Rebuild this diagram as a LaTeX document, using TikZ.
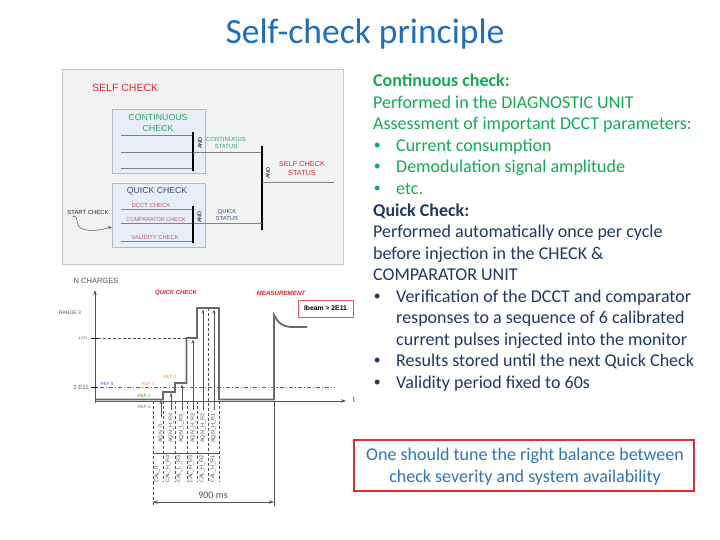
\documentclass[tikz,border=0pt]{standalone}
\usepackage{fontspec}
\setmainfont{Carlito}
\newfontfamily\arialf{Liberation Sans}
\usetikzlibrary{arrows.meta}
\definecolor{titleblue}{RGB}{31,110,182}
\definecolor{cgreen}{RGB}{20,170,85}
\definecolor{dblue}{RGB}{32,56,100}
\definecolor{boxblue}{RGB}{46,117,182}
\definecolor{boxred}{RGB}{225,45,45}
\definecolor{outerfill}{RGB}{243,243,243}
\definecolor{outerborder}{RGB}{200,200,200}
\definecolor{subfill}{RGB}{232,238,248}
\definecolor{subborder}{RGB}{175,185,205}
\definecolor{lgray}{RGB}{130,130,130}
\definecolor{dgray}{RGB}{85,85,85}
\definecolor{siggray}{RGB}{105,105,105}
\definecolor{sred}{RGB}{225,35,45}
\definecolor{sgreen}{RGB}{38,168,100}
\definecolor{qblue}{RGB}{60,75,130}
\definecolor{crose}{RGB}{200,85,95}
\definecolor{refblue}{RGB}{80,80,230}
\definecolor{reforange}{RGB}{240,150,70}
\definecolor{refgreen}{RGB}{70,160,60}
\begin{document}
\begin{tikzpicture}[x=1pt,y=-1pt,
  lbl/.style={inner sep=0pt, font=\arialf\fontsize{#1}{#1}\selectfont},
  rt/.style={anchor=base west, inner sep=0pt, font=\fontsize{18}{21.5}\selectfont},
  bul/.style={anchor=base west, inner sep=0pt, font=\arialf\fontsize{18}{21.5}\selectfont},
  gline/.style={draw=lgray, line width=0.5pt},
  andbar/.style={draw=black, line width=1.6pt},
  andlbl/.style={lbl=5.5, rotate=90},
  subbox/.style={draw=subborder, fill=subfill, line width=0.6pt, minimum width=93pt, minimum height=64pt, inner sep=0pt},
  sig/.style={draw=siggray, line width=1.8pt, line join=miter},
  axis/.style={draw=dgray, line width=0.8pt, -{Stealth[length=5pt,width=3.5pt]}},
  dsh/.style={draw=dgray, line width=0.5pt, dash pattern=on 3pt off 2pt},
  uparr/.style={draw=dgray, line width=0.7pt, -{Stealth[length=4pt,width=3pt]}},
  rlbl/.style={lbl=5.5, rotate=90, anchor=west, text=dgray},
]
\fill[white] (0,0) rectangle (720,540);
\useasboundingbox (0,0) rectangle (720,540);

% ---------- title
\node[anchor=base, inner sep=0pt, font=\fontsize{35.5}{40}\selectfont, text=titleblue] (title) at (365,44) {Self-check principle};

% ---------- right text
\node[rt, text=cgreen, font=\bfseries\fontsize{18}{21.5}\selectfont] (t1) at (373,87) {Continuous check:};
\node[rt, text=cgreen] (t2) at (373,108.5) {Performed in the DIAGNOSTIC UNIT};
\node[rt, text=cgreen] (t3) at (373,130) {Assessment of important DCCT parameters:};
\node[bul, text=cgreen] (b1) at (374,151.5) {•};
\node[rt, text=cgreen] (t4) at (396,151.5) {Current consumption};
\node[bul, text=cgreen] (b2) at (374,173) {•};
\node[rt, text=cgreen] (t5) at (396,173) {Demodulation signal amplitude};
\node[bul, text=cgreen] (b3) at (374,194.5) {•};
\node[rt, text=cgreen] (t6) at (396,194.5) {etc.};
\node[rt, text=dblue, font=\bfseries\fontsize{18}{21.5}\selectfont] (t7) at (373,216) {Quick Check:};
\node[rt, text=dblue] (t8) at (373,237.5) {Performed automatically once per cycle};
\node[rt, text=dblue] (t9) at (373,259) {before injection in the CHECK \&};
\node[rt, text=dblue] (t10) at (373,280.5) {COMPARATOR UNIT};
\node[bul, text=dblue] (b4) at (374,302) {•};
\node[rt, text=dblue] (t11) at (396,302) {Verification of the DCCT and comparator};
\node[rt, text=dblue] (t12) at (396,323.5) {responses to a sequence of 6 calibrated};
\node[rt, text=dblue] (t13) at (396,345) {current pulses injected into the monitor};
\node[bul, text=dblue] (b5) at (374,366.5) {•};
\node[rt, text=dblue] (t14) at (396,366.5) {Results stored until the next Quick Check};
\node[bul, text=dblue] (b6) at (374,388) {•};
\node[rt, text=dblue] (t15) at (396,388) {Validity period fixed to 60s};

% ---------- red framed statement
\node[draw=boxred, line width=1.5pt, minimum width=340pt, minimum height=51pt, inner sep=0pt] (tunebox) at (524,465.5) {};
\node[anchor=base, inner sep=0pt, font=\fontsize{18}{22}\selectfont, text=boxblue] (tune1) at (525,460) {One should tune the right balance between};
\node[anchor=base, inner sep=0pt, font=\fontsize{18}{22}\selectfont, text=boxblue] (tune2) at (525,482) {check severity and system availability};

% ---------- SELF CHECK block diagram
\node[draw=outerborder, fill=outerfill, line width=0.6pt, minimum width=281pt, minimum height=195pt, inner sep=0pt] (selfbox) at (202.5,166.5) {};
\node[lbl=10.5, text=sred, anchor=west] (selftitle) at (92,88) {SELF CHECK};

\node[subbox] (contbox) at (158.5,141) {};
\node[inner sep=0pt, align=center, text=sgreen, font=\arialf\fontsize{8.8}{11}\selectfont] (conttitle) at (158,122.5) {CONTINUOUS\\CHECK};
\coordinate (c1a) at (121,135); \coordinate (c1b) at (193,135);
\coordinate (c2a) at (121,152); \coordinate (c2b) at (193,152);
\coordinate (c3a) at (121,168); \coordinate (c3b) at (193,168);
\draw[gline] (c1a) -- (c1b);
\draw[gline] (c2a) -- (c2b);
\draw[gline] (c3a) -- (c3b);
\coordinate (and1t) at (193,132); \coordinate (and1b) at (193,171);
\draw[andbar] (and1t) -- (and1b);
\node[andlbl] (and1) at (200,143) {AND};
\coordinate (and2t) at (262,146); \coordinate (and2b) at (262,230);
\coordinate (cs) at (262,152);
\draw[gline] (c2b) -- (cs);
\node[inner sep=0pt, align=center, text=sgreen, font=\arialf\fontsize{5.9}{7}\selectfont] (contstat) at (226,142.5) {CONTINUOUS\\STATUS};
\draw[andbar] (and2t) -- (and2b);
\node[andlbl] (and2) at (268,173) {AND};
\coordinate (so1) at (262,182); \coordinate (so2) at (334,182);
\draw[gline] (so1) -- (so2);
\node[inner sep=0pt, align=center, text=sred, font=\arialf\fontsize{7.3}{9}\selectfont] (selfstat) at (302,168.5) {SELF CHECK\\STATUS};

\node[subbox] (quickbox) at (158.5,215) {};
\node[lbl=8.7, text=qblue] (quicktitle) at (157,191) {QUICK CHECK};
\node[lbl=5.9, text=crose] (dcct) at (151,205) {DCCT CHECK};
\coordinate (q1a) at (121,209); \coordinate (q1b) at (193,209);
\draw[gline] (q1a) -- (q1b);
\node[lbl=5.5, text=crose] (comp) at (156,220) {COMPARATOR CHECK};
\coordinate (q2a) at (121,223.5); \coordinate (q2b) at (262,223.5);
\draw[gline] (q2a) -- (q2b);
\node[lbl=5.8, text=crose] (valid) at (155,237.5) {VALIDITY CHECK};
\coordinate (q3a) at (121,241); \coordinate (q3b) at (193,241);
\draw[gline] (q3a) -- (q3b);
\coordinate (and3t) at (193,206); \coordinate (and3b) at (193,243);
\draw[andbar] (and3t) -- (and3b);
\node[andlbl] (and3) at (199.5,217) {AND};
\node[inner sep=0pt, align=center, text=qblue, font=\arialf\fontsize{5.8}{6.7}\selectfont] (quickstat) at (227,215) {QUICK\\STATUS};
\node[lbl=5.9, text=black!85] (start) at (88,212) {START CHECK};
\coordinate (sw) at (72,216);
\coordinate (se) at (112,227);
\draw[draw=dgray, line width=0.5pt, -{Stealth[length=4pt,width=3pt]}] (sw) .. controls (82,216) and (72,226) .. (84,229.5) .. controls (95,232) and (103,229) .. (se);

% ---------- timing diagram
\coordinate (orig) at (95,401);
\coordinate (ytop) at (95,290);
\coordinate (ybot) at (95,403);
\coordinate (xend) at (346,401);
\draw[axis] (ybot) -- (ytop);
\draw[axis] (orig) -- (xend);
\node[lbl=8, text=dgray] (tl) at (354,400) {t};
\node[lbl=7.5, text=dgray] (ncharges) at (96,281) {N CHARGES};
\node[lbl=5, text=dgray] (range3) at (70,313) {RANGE 3};
\node[lbl=3.5, text=dgray] (e4) at (83,338) {4 E11};
\coordinate (tk4a) at (91,338); \coordinate (tk4b) at (98,338);
\draw[draw=black, line width=1pt] (tk4a) -- (tk4b);
\coordinate (d4) at (187,338);
\draw[dsh] (tk4b) -- (d4);
\node[lbl=6, text=dgray] (e2) at (81,387) {2 E11};
\coordinate (tk2a) at (91,387); \coordinate (tk2b) at (98,387);
\draw[draw=black, line width=1pt] (tk2a) -- (tk2b);
\coordinate (r5a) at (100,387); \coordinate (r5b) at (335,387);
\draw[draw=refblue, line width=0.6pt, dash pattern=on 4pt off 2pt on 1pt off 2pt] (r5a) -- (r5b);
\node[lbl=4.5, text=refblue] (ref5) at (107,384) {REF 5};
\node[lbl=4.5, text=reforange] (ref4) at (148,383.5) {REF 4};
\node[lbl=4.5, text=reforange] (ref3) at (170,377) {REF 3};
\node[lbl=4.5, text=refgreen] (ref1) at (144,396) {REF 1};
\node[lbl=4.5, text=refgreen] (ref2) at (144,407) {REF 2};
\node[lbl=5.9, text=sred, font=\arialf\bfseries\itshape\fontsize{5.9}{5.9}\selectfont] (qclbl) at (176,293) {QUICK CHECK};
\node[lbl=6.2, text=sred, font=\arialf\bfseries\itshape\fontsize{6.2}{6.2}\selectfont] (measlbl) at (281,293) {MEASUREMENT};
\node[draw=boxred!80, line width=0.6pt, minimum width=55pt, minimum height=17pt, inner sep=0pt, font=\arialf\bfseries\fontsize{6.8}{6.8}\selectfont] (ibeam) at (325.5,308.5) {Ibeam > 2E11};

% signal
\draw[sig] (95,399.5) -- (163,399.5) -- (163,392) -- (175,392) -- (175,383) -- (186.5,383) -- (186.5,338) -- (197,338) -- (197,308) -- (219,308) -- (219,399.5) -- (274,399.5) -- (274,315) .. controls (278,323) and (283,327) .. (292,327) -- (307,327);

% dashed verticals
\foreach \n/\xx in {a/153,b/163,c/175,d/187,e/197,g/219}{
  \coordinate (dv\n t) at (\xx,401);
  \coordinate (dv\n b) at (\xx,482);
  \draw[dsh] (dv\n t) -- (dv\n b);
}
\coordinate (dvft) at (208,308); \coordinate (dvfb) at (208,482);
\draw[dsh] (dvft) -- (dvfb);
\coordinate (dvab2) at (153,506);
\draw[dsh] (dvab) -- (dvab2);
\coordinate (mst) at (274,401); \coordinate (msb) at (274,506);
\draw[draw=dgray, line width=0.6pt] (mst) -- (msb);
\coordinate (sepa) at (153,453); \coordinate (sepb) at (219,453);
\draw[draw=dgray, line width=0.5pt] (sepa) -- (sepb);

% upward arrows
\foreach \n/\xx/\ya/\yb in {a/161/417/400,b/171/410/393,c/182/410/384.5,d/193/410/339.5,e/203/410/309.5,f/214/410/309.5}{
  \coordinate (ua\n) at (\xx,\ya);
  \coordinate (ub\n) at (\xx,\yb);
  \draw[uparr] (ua\n) -- (ub\n);
}

% rotated labels
\node[rlbl] (aq0) at (161,443) {AQN\_0};
\node[rlbl] (aq1) at (171,443) {AQN\_H\_R4};
\node[rlbl] (aq2) at (181.5,443) {AQN\_L\_R3};
\node[rlbl] (aq3) at (193,443) {AQN\_H\_R3};
\node[rlbl] (aq4) at (203,443) {AQN\_H\_R2};
\node[rlbl] (aq5) at (213.5,443) {AQN\_H\_R1};
\node[rlbl] (cal0) at (157,483) {CAL\_0};
\node[rlbl] (cal1) at (168,483) {CAL\_H\_R4};
\node[rlbl] (cal2) at (179,483) {CAL\_L\_R3};
\node[rlbl] (cal3) at (191,483) {CAL\_H\_R3};
\node[rlbl] (cal4) at (202,483) {CAL\_H\_R2};
\node[rlbl] (cal5) at (213,483) {CAL\_H\_R1};

% dimension
\coordinate (dima) at (153,502); \coordinate (dimb) at (274,502);
\draw[draw=dgray, line width=0.6pt, {Stealth[length=5pt,width=3.5pt]}-{Stealth[length=5pt,width=3.5pt]}] (dima) -- (dimb);
\node[inner sep=0pt, font=\fontsize{10}{10}\selectfont, text=dgray] (dimlbl) at (213,495) {900 ms};
\end{tikzpicture}
\end{document}
